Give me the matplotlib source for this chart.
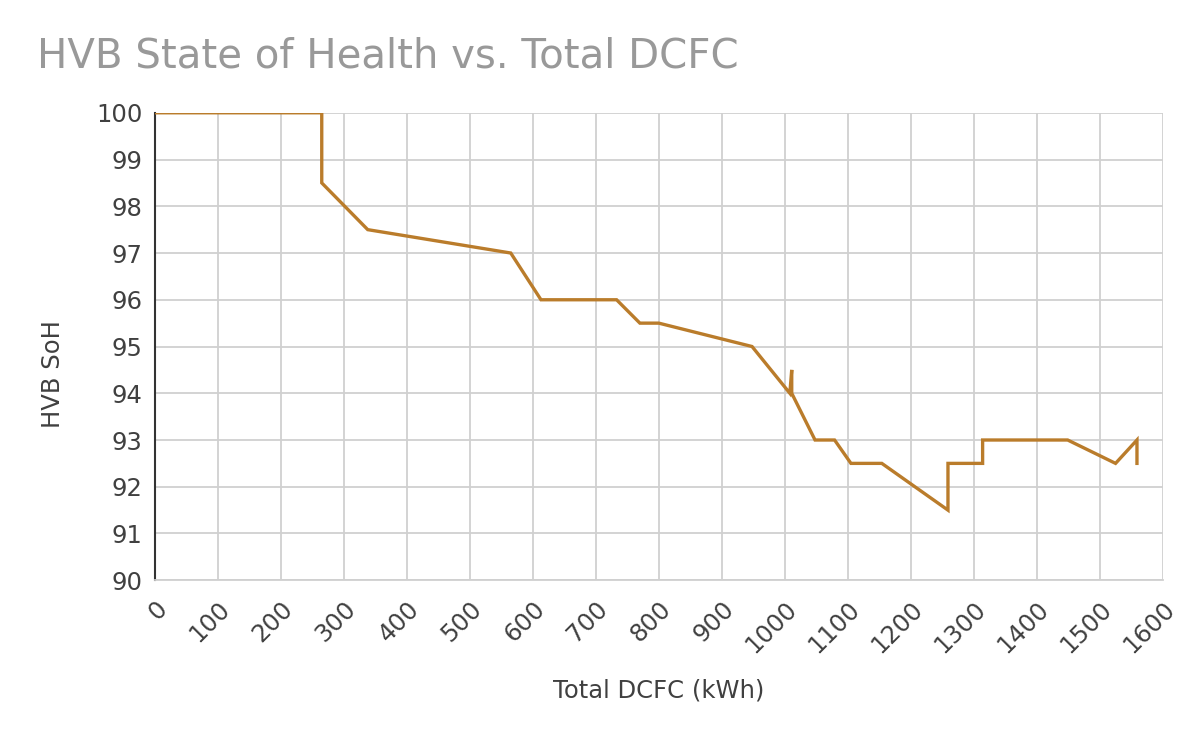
import matplotlib
matplotlib.use('Agg')
import matplotlib.pyplot as plt

# values (kWh, SoH %)
dcfc = [0, 265, 265, 338, 565, 613, 733, 770, 800, 948, 1008, 1011, 1011,
        1048, 1079, 1105, 1154, 1259, 1259, 1314, 1314, 1449, 1525, 1559, 1559]
soh = [100, 100, 98.5, 97.5, 97, 96, 96, 95.5, 95.5, 95, 94, 94.5, 94,
       93, 93, 92.5, 92.5, 91.5, 92.5, 92.5, 93, 93, 92.5, 93, 92.5]
xticks = list(range(0, 1700, 100))
yticks = list(range(90, 101))

plt.rcParams['font.family'] = ['DejaVu Sans']

fig = plt.figure(figsize=(12, 7.42), dpi=100)
ax = fig.add_axes([0.129, 0.218, 0.840, 0.630])

ax.plot(dcfc, soh, color='#BA7C2B', lw=2.4, solid_joinstyle='miter', zorder=3)

ax.set_xlim(0, 1600)
ax.set_ylim(90, 100)
ax.set_xticks(xticks)
ax.set_yticks(yticks)
ax.set_xticklabels([str(t) for t in xticks], rotation=45, ha='right', va='top',
                   rotation_mode='anchor')
ax.grid(True, color='#d0d0d0', lw=1.3)
ax.set_axisbelow(True)
ax.tick_params(axis='both', length=0, labelsize=17.5, colors='#404040', pad=9)
ax.tick_params(axis='x', pad=12)

for s in ['top', 'right']:
    ax.spines[s].set_visible(False)
ax.spines['bottom'].set_color('#d0d0d0')
ax.spines['bottom'].set_linewidth(1.3)
ax.spines['left'].set_color('#333333')
ax.spines['left'].set_linewidth(1.5)

ax.set_xlabel('Total DCFC (kWh)', fontsize=17.5, color='#404040', labelpad=15)
ax.set_ylabel('HVB SoH', fontsize=17.5, color='#404040', labelpad=22)
ax.yaxis.label.set_y(0.44)

fig.text(0.031, 0.924, 'HVB State of Health vs. Total DCFC', fontsize=29,
         color='#999999', ha='left', va='center')

fig.savefig('out.png', dpi=100, facecolor='white')
